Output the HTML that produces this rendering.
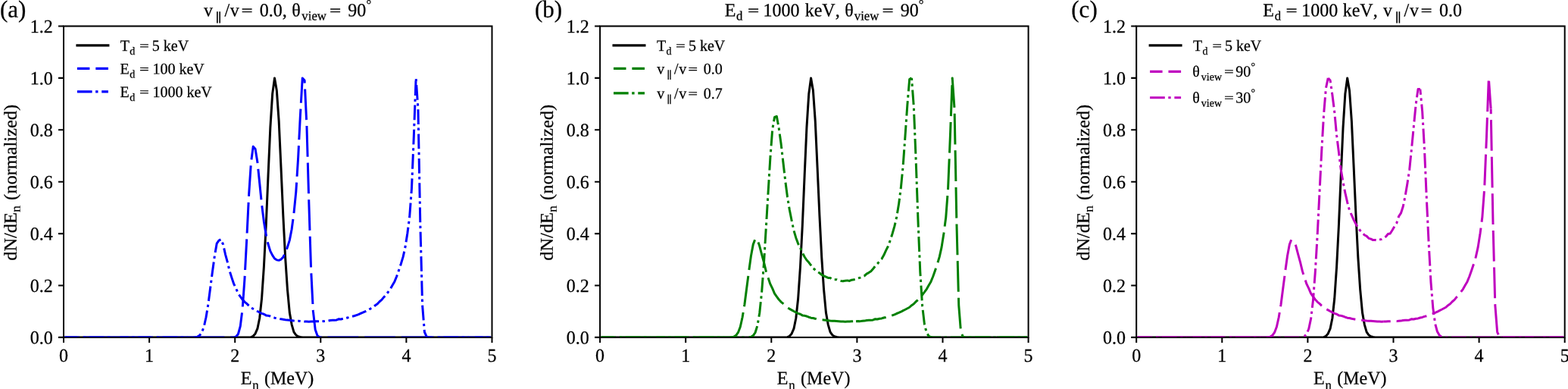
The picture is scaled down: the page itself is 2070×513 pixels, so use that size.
<!DOCTYPE html>
<html lang="en"><head><meta charset="utf-8"><title>Neutron energy spectra</title>
<style>html,body{margin:0;padding:0;background:#fff;overflow:hidden}svg{display:block}text{font-family:"Liberation Serif", "DejaVu Serif", serif;fill:#000;stroke:#000;stroke-width:0.25px;font-kerning:none;text-rendering:geometricPrecision;white-space:pre}</style></head><body>
<svg width="2070" height="513" viewBox="0 0 2070 513" role="img" aria-label="Normalized neutron energy spectra dN/dE versus neutron energy in three panels">
<rect width="2070" height="513" fill="#fff"/>
<defs>
<clipPath id="c0"><rect x="84.00" y="34.50" width="565.50" height="409.85"/></clipPath>
<clipPath id="c1"><rect x="792.10" y="34.50" width="565.50" height="409.85"/></clipPath>
<clipPath id="c2"><rect x="1500.20" y="34.50" width="565.50" height="409.85"/></clipPath>
</defs>
<g transform="scale(1,1.03012)">
<g>
<rect x="84.00" y="33.49" width="565.50" height="398.40" fill="none" stroke="#000" stroke-width="2.00"/>
<path d="M84.00,431.89 v7.00 M197.10,431.89 v7.00 M310.20,431.89 v7.00 M423.30,431.89 v7.00 M536.40,431.89 v7.00 M649.50,431.89 v7.00 M84.00,431.89 h-7.00 M84.00,365.49 h-7.00 M84.00,299.09 h-7.00 M84.00,232.69 h-7.00 M84.00,166.29 h-7.00 M84.00,99.89 h-7.00 M84.00,33.49 h-7.00" stroke="#000" stroke-width="2.00" fill="none"/>
<g transform="scale(1,0.970760)"><g clip-path="url(#c0)" fill="none" stroke-width="3.00" stroke-linejoin="round">
<path d="M85.41,445.10 L88.24,445.10 L91.07,445.10 L93.90,445.10 L96.72,445.10 L99.55,445.10 L102.38,445.10 L105.21,445.10 L108.03,445.10 L110.86,445.10 L113.69,445.10 L116.52,445.10 L119.34,445.10 L122.17,445.10 L125.00,445.10 L127.83,445.10 L130.65,445.10 L133.48,445.10 L136.31,445.10 L139.14,445.10 L141.96,445.10 L144.79,445.10 L147.62,445.10 L150.45,445.10 L153.27,445.10 L156.10,445.10 L158.93,445.10 L161.76,445.10 L164.58,445.10 L167.41,445.10 L170.24,445.10 L173.07,445.10 L175.89,445.10 L178.72,445.10 L181.55,445.10 L184.38,445.10 L187.20,445.10 L190.03,445.10 L192.86,445.10 L195.69,445.10 L198.51,445.10 L201.34,445.10 L204.17,445.10 L207.00,445.10 L209.82,445.10 L212.65,445.10 L215.48,445.10 L218.31,445.10 L221.13,445.10 L223.96,445.10 L226.79,445.10 L229.62,445.10 L232.44,445.10 L235.27,445.10 L238.10,445.10 L240.93,445.10 L243.75,445.10 L246.58,445.10 L249.41,445.10 L252.24,445.10 L255.06,445.10 L257.89,445.10 L260.72,445.10 L263.55,445.10 L266.37,445.10 L269.20,445.10 L272.03,445.10 L274.86,445.10 L277.68,445.10 L280.51,445.10 L283.34,445.10 L286.17,445.10 L288.99,445.10 L291.82,445.10 L294.65,445.10 L297.48,445.10 L300.30,445.10 L303.13,445.10 L305.96,445.10 L308.79,445.10 L311.61,445.10 L314.44,445.10 L317.27,445.10 L320.10,445.10 L322.92,445.09 L325.75,445.04 L328.58,444.97 L331.41,444.66 L334.23,443.25 L337.06,439.97 L339.89,433.43 L342.72,419.48 L345.54,393.73 L348.37,352.19 L351.20,297.51 L354.03,231.53 L356.85,168.07 L359.68,123.62 L362.51,102.89 L365.34,119.58 L368.16,159.60 L370.99,221.08 L373.82,284.35 L376.65,339.57 L379.47,381.86 L382.30,412.13 L385.13,428.08 L387.96,437.90 L390.78,441.87 L393.61,443.80 L396.44,444.56 L399.27,444.95 L402.09,445.08 L404.92,445.10 L407.75,445.10 L410.58,445.10 L413.40,445.10 L416.23,445.10 L419.06,445.10 L421.89,445.10 L424.71,445.10 L427.54,445.10 L430.37,445.10 L433.20,445.10 L436.02,445.10 L438.85,445.10 L441.68,445.10 L444.51,445.10 L447.33,445.10 L450.16,445.10 L452.99,445.10 L455.82,445.10 L458.64,445.10 L461.47,445.10 L464.30,445.10 L467.13,445.10 L469.95,445.10 L472.78,445.10 L475.61,445.10 L478.44,445.10 L481.26,445.10 L484.09,445.10 L486.92,445.10 L489.75,445.10 L492.57,445.10 L495.40,445.10 L498.23,445.10 L501.06,445.10 L503.88,445.10 L506.71,445.10 L509.54,445.10 L512.37,445.10 L515.19,445.10 L518.02,445.10 L520.85,445.10 L523.68,445.10 L526.50,445.10 L529.33,445.10 L532.16,445.10 L534.99,445.10 L537.81,445.10 L540.64,445.10 L543.47,445.10 L546.30,445.10 L549.12,445.10 L551.95,445.10 L554.78,445.10 L557.61,445.10 L560.43,445.10 L563.26,445.10 L566.09,445.10 L568.92,445.10 L571.74,445.10 L574.57,445.10 L577.40,445.10 L580.23,445.10 L583.05,445.10 L585.88,445.10 L588.71,445.10 L591.54,445.10 L594.36,445.10 L597.19,445.10 L600.02,445.10 L602.85,445.10 L605.67,445.10 L608.50,445.10 L611.33,445.10 L614.16,445.10 L616.98,445.10 L619.81,445.10 L622.64,445.10 L625.47,445.10 L628.29,445.10 L631.12,445.10 L633.95,445.10 L636.78,445.10 L639.60,445.10 L642.43,445.10 L645.26,445.10 L648.09,445.10" stroke="#000000"/>
<path d="M85.41,445.10 L88.24,445.10 L91.07,445.10 L93.90,445.10 L96.72,445.10 L99.55,445.10 L102.38,445.10 L105.21,445.10 L108.03,445.10 L110.86,445.10 L113.69,445.10 L116.52,445.10 L119.34,445.10 L122.17,445.10 L125.00,445.10 L127.83,445.10 L130.65,445.10 L133.48,445.10 L136.31,445.10 L139.14,445.10 L141.96,445.10 L144.79,445.10 L147.62,445.10 L150.45,445.10 L153.27,445.10 L156.10,445.10 L158.93,445.10 L161.76,445.10 L164.58,445.10 L167.41,445.10 L170.24,445.10 L173.07,445.10 L175.89,445.10 L178.72,445.10 L181.55,445.10 L184.38,445.10 L187.20,445.10 L190.03,445.10 L192.86,445.10 L195.69,445.10 L198.51,445.10 L201.34,445.10 L204.17,445.10 L207.00,445.10 L209.82,445.10 L212.65,445.10 L215.48,445.10 L218.31,445.10 L221.13,445.10 L223.96,445.10 L226.79,445.10 L229.62,445.10 L232.44,445.10 L235.27,445.10 L238.10,445.10 L240.93,445.10 L243.75,445.10 L246.58,445.10 L249.41,445.10 L252.24,445.10 L255.06,445.10 L257.89,445.10 L260.72,445.10 L263.55,445.10 L266.37,445.10 L269.20,445.10 L272.03,445.10 L274.86,445.10 L277.68,445.10 L280.51,445.10 L283.34,445.10 L286.17,445.10 L288.99,445.10 L291.82,445.10 L294.65,445.10 L297.48,445.10 L300.30,445.10 L303.13,445.10 L305.96,445.08 L308.79,444.91 L311.61,443.99 L314.44,440.51 L317.27,430.14 L320.10,407.56 L322.92,368.39 L325.75,314.75 L328.58,257.10 L331.41,214.43 L334.23,193.16 L337.06,196.39 L339.89,213.99 L342.72,241.50 L345.54,269.43 L348.37,292.18 L351.20,309.63 L354.03,322.06 L356.85,331.18 L359.68,336.67 L362.51,341.03 L365.34,342.86 L368.16,343.34 L370.99,342.05 L373.82,339.14 L376.65,333.22 L379.47,325.87 L382.30,316.89 L385.13,302.26 L387.96,281.24 L390.78,253.08 L393.61,208.33 L396.44,151.69 L399.27,102.89 L402.09,105.97 L404.92,165.41 L407.75,264.81 L410.58,354.69 L413.40,410.70 L416.23,434.83 L419.06,442.71 L421.89,444.66 L424.71,445.03 L427.54,445.09 L430.37,445.10 L433.20,445.10 L436.02,445.10 L438.85,445.10 L441.68,445.10 L444.51,445.10 L447.33,445.10 L450.16,445.10 L452.99,445.10 L455.82,445.10 L458.64,445.10 L461.47,445.10 L464.30,445.10 L467.13,445.10 L469.95,445.10 L472.78,445.10 L475.61,445.10 L478.44,445.10 L481.26,445.10 L484.09,445.10 L486.92,445.10 L489.75,445.10 L492.57,445.10 L495.40,445.10 L498.23,445.10 L501.06,445.10 L503.88,445.10 L506.71,445.10 L509.54,445.10 L512.37,445.10 L515.19,445.10 L518.02,445.10 L520.85,445.10 L523.68,445.10 L526.50,445.10 L529.33,445.10 L532.16,445.10 L534.99,445.10 L537.81,445.10 L540.64,445.10 L543.47,445.10 L546.30,445.10 L549.12,445.10 L551.95,445.10 L554.78,445.10 L557.61,445.10 L560.43,445.10 L563.26,445.10 L566.09,445.10 L568.92,445.10 L571.74,445.10 L574.57,445.10 L577.40,445.10 L580.23,445.10 L583.05,445.10 L585.88,445.10 L588.71,445.10 L591.54,445.10 L594.36,445.10 L597.19,445.10 L600.02,445.10 L602.85,445.10 L605.67,445.10 L608.50,445.10 L611.33,445.10 L614.16,445.10 L616.98,445.10 L619.81,445.10 L622.64,445.10 L625.47,445.10 L628.29,445.10 L631.12,445.10 L633.95,445.10 L636.78,445.10 L639.60,445.10 L642.43,445.10 L645.26,445.10 L648.09,445.10" stroke="#0000ff" stroke-dasharray="40.7 7.9" stroke-dashoffset="24.20"/>
<path d="M85.41,445.10 L88.24,445.10 L91.07,445.10 L93.90,445.10 L96.72,445.10 L99.55,445.10 L102.38,445.10 L105.21,445.10 L108.03,445.10 L110.86,445.10 L113.69,445.10 L116.52,445.10 L119.34,445.10 L122.17,445.10 L125.00,445.10 L127.83,445.10 L130.65,445.10 L133.48,445.10 L136.31,445.10 L139.14,445.10 L141.96,445.10 L144.79,445.10 L147.62,445.10 L150.45,445.10 L153.27,445.10 L156.10,445.10 L158.93,445.10 L161.76,445.10 L164.58,445.10 L167.41,445.10 L170.24,445.10 L173.07,445.10 L175.89,445.10 L178.72,445.10 L181.55,445.10 L184.38,445.10 L187.20,445.10 L190.03,445.10 L192.86,445.10 L195.69,445.10 L198.51,445.10 L201.34,445.10 L204.17,445.10 L207.00,445.10 L209.82,445.10 L212.65,445.10 L215.48,445.10 L218.31,445.10 L221.13,445.10 L223.96,445.10 L226.79,445.10 L229.62,445.10 L232.44,445.10 L235.27,445.10 L238.10,445.10 L240.93,445.10 L243.75,445.10 L246.58,445.10 L249.41,445.09 L252.24,445.08 L255.06,445.01 L257.89,444.81 L260.72,444.12 L263.55,442.34 L266.37,438.43 L269.20,431.04 L272.03,418.24 L274.86,401.23 L277.68,379.52 L280.51,357.86 L283.34,337.48 L286.17,321.22 L288.99,317.11 L291.82,315.75 L294.65,322.59 L297.48,335.28 L300.30,345.59 L303.13,357.40 L305.96,366.33 L308.79,374.65 L311.61,380.44 L314.44,387.11 L317.27,391.22 L320.10,395.02 L322.92,398.11 L325.75,400.39 L328.58,403.16 L331.41,405.44 L334.23,407.38 L337.06,408.85 L339.89,410.52 L342.72,411.98 L345.54,413.36 L348.37,414.24 L351.20,415.91 L354.03,416.33 L356.85,417.05 L359.68,418.23 L362.51,419.16 L365.34,419.53 L368.16,420.23 L370.99,420.85 L373.82,421.32 L376.65,421.82 L379.47,421.93 L382.30,422.29 L385.13,422.68 L387.96,423.05 L390.78,423.31 L393.61,423.24 L396.44,423.41 L399.27,423.77 L402.09,424.11 L404.92,423.99 L407.75,424.16 L410.58,424.07 L413.40,424.05 L416.23,423.86 L419.06,423.78 L421.89,423.68 L424.71,423.52 L427.54,423.63 L430.37,423.32 L433.20,423.11 L436.02,422.46 L438.85,422.20 L441.68,422.36 L444.51,421.92 L447.33,420.76 L450.16,420.97 L452.99,420.21 L455.82,419.92 L458.64,419.01 L461.47,418.41 L464.30,417.40 L467.13,416.78 L469.95,415.80 L472.78,414.83 L475.61,413.52 L478.44,412.43 L481.26,411.23 L484.09,409.65 L486.92,408.22 L489.75,406.70 L492.57,405.24 L495.40,402.63 L498.23,400.74 L501.06,397.73 L503.88,395.40 L506.71,391.91 L509.54,388.86 L512.37,385.14 L515.19,381.26 L518.02,376.21 L520.85,371.42 L523.68,364.54 L526.50,356.52 L529.33,348.03 L532.16,338.69 L534.99,325.86 L537.81,308.04 L540.64,286.52 L543.47,248.74 L546.30,180.09 L549.12,102.89 L551.95,143.44 L554.78,293.19 L557.61,402.33 L560.43,437.81 L563.26,444.22 L566.09,445.05 L568.92,445.09 L571.74,445.10 L574.57,445.10 L577.40,445.10 L580.23,445.10 L583.05,445.10 L585.88,445.10 L588.71,445.10 L591.54,445.10 L594.36,445.10 L597.19,445.10 L600.02,445.10 L602.85,445.10 L605.67,445.10 L608.50,445.10 L611.33,445.10 L614.16,445.10 L616.98,445.10 L619.81,445.10 L622.64,445.10 L625.47,445.10 L628.29,445.10 L631.12,445.10 L633.95,445.10 L636.78,445.10 L639.60,445.10 L642.43,445.10 L645.26,445.10 L648.09,445.10" stroke="#0000ff" stroke-dasharray="19.7 4.5 3.4 4.7" stroke-dashoffset="0.00"/>
</g></g>
<g fill="none" stroke-width="3.00">
<path d="M101.90,58.15 H142.90" stroke="#000" stroke-linecap="square"/>
<path d="M101.90,87.76 H142.90" stroke="#0000ff" stroke-dasharray="40.7 7.9" stroke-dashoffset="24.2"/>
<path d="M101.90,117.36 H142.90" stroke="#0000ff" stroke-dasharray="19.7 4.5 3.4 4.7"/>
</g>
<g font-size="20"><text transform="translate(158.82,64.94) rotate(0.05)">T</text><text font-size="14" transform="translate(171.30,69.80) rotate(0.05)">d</text><text font-size="14.67" style="font-family:'DejaVu Serif',sans-serif;stroke-width:0.05px" transform="translate(183.22,63.10) rotate(0.05) scale(1.17,1)">=</text><text transform="translate(200.78,64.94) rotate(0.05)">5 keV</text></g>
<g font-size="20"><text transform="translate(158.58,94.75) rotate(0.05)">E</text><text font-size="14" transform="translate(171.30,99.60) rotate(0.05)">d</text><text font-size="14.67" style="font-family:'DejaVu Serif',sans-serif;stroke-width:0.05px" transform="translate(183.22,92.90) rotate(0.05) scale(1.17,1)">=</text><text transform="translate(201.45,94.75) rotate(0.05)">100 keV</text></g>
<g font-size="20"><text transform="translate(158.58,124.16) rotate(0.05)">E</text><text font-size="14" transform="translate(171.30,129.01) rotate(0.05)">d</text><text font-size="14.67" style="font-family:'DejaVu Serif',sans-serif;stroke-width:0.05px" transform="translate(183.22,122.32) rotate(0.05) scale(1.17,1)">=</text><text transform="translate(201.45,124.16) rotate(0.05)">1000 keV</text></g>
<text transform="translate(84.00,462.96) rotate(0.05)" font-size="24" text-anchor="middle">0</text>
<text transform="translate(197.10,462.96) rotate(0.05)" font-size="24" text-anchor="middle">1</text>
<text transform="translate(310.20,462.96) rotate(0.05)" font-size="24" text-anchor="middle">2</text>
<text transform="translate(423.30,462.96) rotate(0.05)" font-size="24" text-anchor="middle">3</text>
<text transform="translate(536.40,462.96) rotate(0.05)" font-size="24" text-anchor="middle">4</text>
<text transform="translate(649.50,462.96) rotate(0.05)" font-size="24" text-anchor="middle">5</text>
<text transform="translate(69.70,440.14) rotate(0.05)" font-size="24" text-anchor="end">0.0</text>
<text transform="translate(69.70,373.74) rotate(0.05)" font-size="24" text-anchor="end">0.2</text>
<text transform="translate(69.70,307.34) rotate(0.05)" font-size="24" text-anchor="end">0.4</text>
<text transform="translate(69.70,240.94) rotate(0.05)" font-size="24" text-anchor="end">0.6</text>
<text transform="translate(69.70,174.54) rotate(0.05)" font-size="24" text-anchor="end">0.8</text>
<text transform="translate(69.70,108.14) rotate(0.05)" font-size="24" text-anchor="end">1.0</text>
<text transform="translate(69.70,41.74) rotate(0.05)" font-size="24" text-anchor="end">1.2</text>
<g font-size="24"><text transform="translate(268.90,20.97) rotate(0.05)">v</text><text font-size="15" style="font-family:'DejaVu Sans',sans-serif;stroke-width:0" transform="translate(283.25,26.36) rotate(0.05) scale(1.4,1)">∥</text><text transform="translate(296.40,20.97) rotate(0.05)">/</text><text transform="translate(303.70,20.97) rotate(0.05)">v</text><text font-size="17.6" style="font-family:'DejaVu Serif',sans-serif;stroke-width:0.05px" transform="translate(317.40,18.93) rotate(0.05) scale(1.17,1)">=</text><text transform="translate(342.72,20.97) rotate(0.05)">0.0,</text><text transform="translate(385.15,20.97) rotate(0.05)">θ</text><text font-size="16.8" transform="translate(398.37,25.82) rotate(0.05)">view</text><text font-size="17.6" style="font-family:'DejaVu Serif',sans-serif;stroke-width:0.05px" transform="translate(434.07,18.93) rotate(0.05) scale(1.17,1)">=</text><text transform="translate(459.32,20.97) rotate(0.05)">90</text><text font-size="16.8" transform="translate(483.42,11.26) rotate(0.05)">°</text></g>
<g font-size="24"><text transform="translate(317.75,491.98) rotate(0.05)">E</text><text font-size="16.8" transform="translate(333.22,498.39) rotate(0.05)">n</text><text transform="translate(349.00,491.98) rotate(0.05)">(MeV)</text></g>
<g transform="translate(21.70,332.83) rotate(-90) scale(0.9873,1)"><g font-size="24"><text transform="translate(-0.88,0.00) rotate(0.05)">dN/dE</text><text font-size="16.8" transform="translate(62.12,4.85) rotate(0.05)">n</text><text transform="translate(77.60,0.00) rotate(0.05)">(normalized)</text></g></g>
<text transform="translate(0.00,22.18) rotate(0.05)" font-size="31">(a)</text>
</g>
<g>
<rect x="792.10" y="33.49" width="565.50" height="398.40" fill="none" stroke="#000" stroke-width="2.00"/>
<path d="M792.10,431.89 v7.00 M905.20,431.89 v7.00 M1018.30,431.89 v7.00 M1131.40,431.89 v7.00 M1244.50,431.89 v7.00 M1357.60,431.89 v7.00 M792.10,431.89 h-7.00 M792.10,365.49 h-7.00 M792.10,299.09 h-7.00 M792.10,232.69 h-7.00 M792.10,166.29 h-7.00 M792.10,99.89 h-7.00 M792.10,33.49 h-7.00" stroke="#000" stroke-width="2.00" fill="none"/>
<g transform="scale(1,0.970760)"><g clip-path="url(#c1)" fill="none" stroke-width="3.00" stroke-linejoin="round">
<path d="M793.51,445.10 L796.34,445.10 L799.17,445.10 L802.00,445.10 L804.82,445.10 L807.65,445.10 L810.48,445.10 L813.31,445.10 L816.13,445.10 L818.96,445.10 L821.79,445.10 L824.62,445.10 L827.44,445.10 L830.27,445.10 L833.10,445.10 L835.93,445.10 L838.75,445.10 L841.58,445.10 L844.41,445.10 L847.24,445.10 L850.06,445.10 L852.89,445.10 L855.72,445.10 L858.55,445.10 L861.37,445.10 L864.20,445.10 L867.03,445.10 L869.86,445.10 L872.68,445.10 L875.51,445.10 L878.34,445.10 L881.17,445.10 L883.99,445.10 L886.82,445.10 L889.65,445.10 L892.48,445.10 L895.30,445.10 L898.13,445.10 L900.96,445.10 L903.79,445.10 L906.61,445.10 L909.44,445.10 L912.27,445.10 L915.10,445.10 L917.92,445.10 L920.75,445.10 L923.58,445.10 L926.41,445.10 L929.23,445.10 L932.06,445.10 L934.89,445.10 L937.72,445.10 L940.54,445.10 L943.37,445.10 L946.20,445.10 L949.03,445.10 L951.85,445.10 L954.68,445.10 L957.51,445.10 L960.34,445.10 L963.16,445.10 L965.99,445.10 L968.82,445.10 L971.65,445.10 L974.47,445.10 L977.30,445.10 L980.13,445.10 L982.96,445.10 L985.78,445.10 L988.61,445.10 L991.44,445.10 L994.27,445.10 L997.09,445.10 L999.92,445.10 L1002.75,445.10 L1005.58,445.10 L1008.40,445.10 L1011.23,445.10 L1014.06,445.10 L1016.89,445.10 L1019.71,445.10 L1022.54,445.10 L1025.37,445.10 L1028.20,445.10 L1031.02,445.09 L1033.85,445.04 L1036.68,444.97 L1039.51,444.66 L1042.33,443.25 L1045.16,439.97 L1047.99,433.43 L1050.82,419.48 L1053.64,393.73 L1056.47,352.19 L1059.30,297.51 L1062.13,231.53 L1064.95,168.07 L1067.78,123.62 L1070.61,102.89 L1073.44,119.58 L1076.26,159.60 L1079.09,221.08 L1081.92,284.35 L1084.75,339.57 L1087.57,381.86 L1090.40,412.13 L1093.23,428.08 L1096.06,437.90 L1098.88,441.87 L1101.71,443.80 L1104.54,444.56 L1107.37,444.95 L1110.19,445.08 L1113.02,445.10 L1115.85,445.10 L1118.68,445.10 L1121.50,445.10 L1124.33,445.10 L1127.16,445.10 L1129.99,445.10 L1132.81,445.10 L1135.64,445.10 L1138.47,445.10 L1141.30,445.10 L1144.12,445.10 L1146.95,445.10 L1149.78,445.10 L1152.61,445.10 L1155.43,445.10 L1158.26,445.10 L1161.09,445.10 L1163.92,445.10 L1166.74,445.10 L1169.57,445.10 L1172.40,445.10 L1175.23,445.10 L1178.05,445.10 L1180.88,445.10 L1183.71,445.10 L1186.54,445.10 L1189.36,445.10 L1192.19,445.10 L1195.02,445.10 L1197.85,445.10 L1200.67,445.10 L1203.50,445.10 L1206.33,445.10 L1209.16,445.10 L1211.98,445.10 L1214.81,445.10 L1217.64,445.10 L1220.47,445.10 L1223.29,445.10 L1226.12,445.10 L1228.95,445.10 L1231.78,445.10 L1234.60,445.10 L1237.43,445.10 L1240.26,445.10 L1243.09,445.10 L1245.91,445.10 L1248.74,445.10 L1251.57,445.10 L1254.40,445.10 L1257.22,445.10 L1260.05,445.10 L1262.88,445.10 L1265.71,445.10 L1268.53,445.10 L1271.36,445.10 L1274.19,445.10 L1277.02,445.10 L1279.84,445.10 L1282.67,445.10 L1285.50,445.10 L1288.33,445.10 L1291.15,445.10 L1293.98,445.10 L1296.81,445.10 L1299.64,445.10 L1302.46,445.10 L1305.29,445.10 L1308.12,445.10 L1310.95,445.10 L1313.77,445.10 L1316.60,445.10 L1319.43,445.10 L1322.26,445.10 L1325.08,445.10 L1327.91,445.10 L1330.74,445.10 L1333.57,445.10 L1336.39,445.10 L1339.22,445.10 L1342.05,445.10 L1344.88,445.10 L1347.70,445.10 L1350.53,445.10 L1353.36,445.10 L1356.19,445.10" stroke="#000000"/>
<path d="M793.51,445.10 L796.34,445.10 L799.17,445.10 L802.00,445.10 L804.82,445.10 L807.65,445.10 L810.48,445.10 L813.31,445.10 L816.13,445.10 L818.96,445.10 L821.79,445.10 L824.62,445.10 L827.44,445.10 L830.27,445.10 L833.10,445.10 L835.93,445.10 L838.75,445.10 L841.58,445.10 L844.41,445.10 L847.24,445.10 L850.06,445.10 L852.89,445.10 L855.72,445.10 L858.55,445.10 L861.37,445.10 L864.20,445.10 L867.03,445.10 L869.86,445.10 L872.68,445.10 L875.51,445.10 L878.34,445.10 L881.17,445.10 L883.99,445.10 L886.82,445.10 L889.65,445.10 L892.48,445.10 L895.30,445.10 L898.13,445.10 L900.96,445.10 L903.79,445.10 L906.61,445.10 L909.44,445.10 L912.27,445.10 L915.10,445.10 L917.92,445.10 L920.75,445.10 L923.58,445.10 L926.41,445.10 L929.23,445.10 L932.06,445.10 L934.89,445.10 L937.72,445.10 L940.54,445.10 L943.37,445.10 L946.20,445.10 L949.03,445.10 L951.85,445.10 L954.68,445.10 L957.51,445.09 L960.34,445.08 L963.16,445.01 L965.99,444.81 L968.82,444.12 L971.65,442.34 L974.47,438.43 L977.30,431.04 L980.13,418.24 L982.96,401.23 L985.78,379.52 L988.61,357.86 L991.44,337.48 L994.27,322.36 L997.09,314.90 L999.92,316.34 L1002.75,324.56 L1005.58,335.28 L1008.40,345.59 L1011.23,357.40 L1014.06,366.33 L1016.89,374.65 L1019.71,380.44 L1022.54,387.11 L1025.37,391.22 L1028.20,395.02 L1031.02,398.11 L1033.85,400.39 L1036.68,403.16 L1039.51,405.44 L1042.33,407.38 L1045.16,408.85 L1047.99,410.52 L1050.82,411.98 L1053.64,413.36 L1056.47,414.24 L1059.30,415.91 L1062.13,416.33 L1064.95,417.05 L1067.78,418.23 L1070.61,419.16 L1073.44,419.53 L1076.26,420.23 L1079.09,420.85 L1081.92,421.32 L1084.75,421.82 L1087.57,421.93 L1090.40,422.29 L1093.23,422.68 L1096.06,423.05 L1098.88,423.31 L1101.71,423.24 L1104.54,423.41 L1107.37,423.77 L1110.19,424.11 L1113.02,423.99 L1115.85,424.16 L1118.68,424.07 L1121.50,424.05 L1124.33,423.86 L1127.16,423.78 L1129.99,423.68" stroke="#008000" stroke-dasharray="40.7 7.9" stroke-dashoffset="24.20"/>
<path d="M1129.99,423.68 L1132.81,423.52 L1135.64,423.63 L1138.47,423.32 L1141.30,423.11 L1144.12,422.46 L1146.95,422.20 L1149.78,422.36 L1152.61,421.92 L1155.43,420.76 L1158.26,420.97 L1161.09,420.21 L1163.92,419.92 L1166.74,419.01 L1169.57,418.41 L1172.40,417.40 L1175.23,416.78 L1178.05,415.80 L1180.88,414.83 L1183.71,413.52 L1186.54,412.43 L1189.36,411.23 L1192.19,409.65 L1195.02,408.22 L1197.85,406.70 L1200.67,405.24 L1203.50,402.63 L1206.33,400.74 L1209.16,397.73 L1211.98,395.40 L1214.81,391.91 L1217.64,388.86 L1220.47,385.14 L1223.29,381.26 L1226.12,376.21 L1228.95,371.42 L1231.78,364.54 L1234.60,356.52 L1237.43,348.03 L1240.26,338.69 L1243.09,325.86 L1245.91,308.04 L1248.74,286.52 L1251.57,248.74 L1254.40,180.09 L1257.22,102.89 L1260.05,143.44 L1262.88,293.19 L1265.71,402.33 L1268.53,437.81 L1271.36,444.22 L1274.19,445.05 L1277.02,445.09 L1279.84,445.10 L1282.67,445.10 L1285.50,445.10 L1288.33,445.10 L1291.15,445.10 L1293.98,445.10 L1296.81,445.10 L1299.64,445.10 L1302.46,445.10 L1305.29,445.10 L1308.12,445.10 L1310.95,445.10 L1313.77,445.10 L1316.60,445.10 L1319.43,445.10 L1322.26,445.10 L1325.08,445.10 L1327.91,445.10 L1330.74,445.10 L1333.57,445.10 L1336.39,445.10 L1339.22,445.10 L1342.05,445.10 L1344.88,445.10 L1347.70,445.10 L1350.53,445.10 L1353.36,445.10 L1356.19,445.10" stroke="#008000" stroke-dasharray="40.7 7.9" stroke-dashoffset="0.35"/>
<path d="M793.51,445.10 L796.34,445.10 L799.17,445.10 L802.00,445.10 L804.82,445.10 L807.65,445.10 L810.48,445.10 L813.31,445.10 L816.13,445.10 L818.96,445.10 L821.79,445.10 L824.62,445.10 L827.44,445.10 L830.27,445.10 L833.10,445.10 L835.93,445.10 L838.75,445.10 L841.58,445.10 L844.41,445.10 L847.24,445.10 L850.06,445.10 L852.89,445.10 L855.72,445.10 L858.55,445.10 L861.37,445.10 L864.20,445.10 L867.03,445.10 L869.86,445.10 L872.68,445.10 L875.51,445.10 L878.34,445.10 L881.17,445.10 L883.99,445.10 L886.82,445.10 L889.65,445.10 L892.48,445.10 L895.30,445.10 L898.13,445.10 L900.96,445.10 L903.79,445.10 L906.61,445.10 L909.44,445.10 L912.27,445.10 L915.10,445.10 L917.92,445.10 L920.75,445.10 L923.58,445.10 L926.41,445.10 L929.23,445.10 L932.06,445.10 L934.89,445.10 L937.72,445.10 L940.54,445.10 L943.37,445.10 L946.20,445.10 L949.03,445.10 L951.85,445.10 L954.68,445.10 L957.51,445.10 L960.34,445.10 L963.16,445.10 L965.99,445.10 L968.82,445.10 L971.65,445.10 L974.47,445.10 L977.30,445.10 L980.13,445.10 L982.96,445.07 L985.78,445.03" stroke="#008000" stroke-dasharray="19.7 4.5 3.4 4.7" stroke-dashoffset="0.00"/>
<path d="M985.78,445.03 L988.61,444.88 L991.44,444.25 L994.27,442.65 L997.09,438.48 L999.92,429.27 L1002.75,412.75 L1005.58,385.84 L1008.40,348.11 L1011.23,301.69 L1014.06,254.37 L1016.89,208.04 L1019.71,170.60 L1022.54,154.40 L1025.37,153.51 L1028.20,168.87 L1031.02,188.99 L1033.85,213.48 L1036.68,238.06 L1039.51,259.76 L1042.33,276.77 L1045.16,291.06 L1047.99,304.07 L1050.82,313.70 L1053.64,321.32 L1056.47,326.84 L1059.30,333.23 L1062.13,338.78 L1064.95,342.97 L1067.78,346.03 L1070.61,349.85 L1073.44,353.81 L1076.26,355.97 L1079.09,358.36 L1081.92,359.99 L1084.75,362.40 L1087.57,363.92 L1090.40,365.18 L1093.23,366.41 L1096.06,366.55 L1098.88,368.36 L1101.71,368.77 L1104.54,368.74 L1107.37,369.80 L1110.19,370.43 L1113.02,370.77 L1115.85,370.15 L1118.68,369.88 L1121.50,370.46 L1124.33,369.21 L1127.16,368.79 L1129.99,367.98 L1132.81,366.91 L1135.64,366.07 L1138.47,364.52 L1141.30,363.70 L1144.12,361.06 L1146.95,359.58 L1149.78,357.74 L1152.61,354.60 L1155.43,350.85 L1158.26,347.94 L1161.09,344.45 L1163.92,341.47 L1166.74,336.58 L1169.57,330.31 L1172.40,324.77 L1175.23,316.93 L1178.05,308.27 L1180.88,298.43 L1183.71,286.10 L1186.54,269.33 L1189.36,247.53 L1192.19,218.39 L1195.02,179.01 L1197.85,138.32 L1200.67,104.64 L1203.50,102.89" stroke="#008000" stroke-dasharray="19.7 4.5 3.4 4.7" stroke-dashoffset="29.27"/>
<path d="M1203.50,102.89 L1206.33,140.89 L1209.16,211.07 L1211.98,291.03 L1214.81,358.89 L1217.64,403.70 L1220.47,427.93 L1223.29,438.69 L1226.12,443.28 L1228.95,444.57 L1231.78,444.95 L1234.60,445.08 L1237.43,445.10 L1240.26,445.10 L1243.09,445.10 L1245.91,445.10 L1248.74,445.10 L1251.57,445.10 L1254.40,445.10 L1257.22,445.10 L1260.05,445.10 L1262.88,445.10 L1265.71,445.10 L1268.53,445.10 L1271.36,445.10 L1274.19,445.10 L1277.02,445.10 L1279.84,445.10 L1282.67,445.10 L1285.50,445.10 L1288.33,445.10 L1291.15,445.10 L1293.98,445.10 L1296.81,445.10 L1299.64,445.10 L1302.46,445.10 L1305.29,445.10 L1308.12,445.10 L1310.95,445.10 L1313.77,445.10 L1316.60,445.10 L1319.43,445.10 L1322.26,445.10 L1325.08,445.10 L1327.91,445.10 L1330.74,445.10 L1333.57,445.10 L1336.39,445.10 L1339.22,445.10 L1342.05,445.10 L1344.88,445.10 L1347.70,445.10 L1350.53,445.10 L1353.36,445.10 L1356.19,445.10" stroke="#008000" stroke-dasharray="19.7 4.5 3.4 4.7" stroke-dashoffset="16.59"/>
</g></g>
<g fill="none" stroke-width="3.00">
<path d="M810.00,58.15 H851.00" stroke="#000" stroke-linecap="square"/>
<path d="M810.00,87.76 H851.00" stroke="#008000" stroke-dasharray="40.7 7.9" stroke-dashoffset="24.2"/>
<path d="M810.00,119.31 H851.00" stroke="#008000" stroke-dasharray="19.7 4.5 3.4 4.7"/>
</g>
<g font-size="20"><text transform="translate(866.92,64.94) rotate(0.05)">T</text><text font-size="14" transform="translate(879.40,69.80) rotate(0.05)">d</text><text font-size="14.67" style="font-family:'DejaVu Serif',sans-serif;stroke-width:0.05px" transform="translate(891.32,63.10) rotate(0.05) scale(1.17,1)">=</text><text transform="translate(908.88,64.94) rotate(0.05)">5 keV</text></g>
<g font-size="20"><text transform="translate(867.20,94.71) rotate(0.05)">v</text><text font-size="12.5" style="font-family:'DejaVu Sans',sans-serif;stroke-width:0" transform="translate(879.16,99.20) rotate(0.05) scale(1.4,1)">∥</text><text transform="translate(890.12,94.71) rotate(0.05)">/</text><text transform="translate(896.20,94.71) rotate(0.05)">v</text><text font-size="14.67" style="font-family:'DejaVu Serif',sans-serif;stroke-width:0.05px" transform="translate(907.62,92.86) rotate(0.05) scale(1.17,1)">=</text><text transform="translate(928.70,94.71) rotate(0.05)">0.0</text></g>
<g font-size="20"><text transform="translate(867.20,126.15) rotate(0.05)">v</text><text font-size="12.5" style="font-family:'DejaVu Sans',sans-serif;stroke-width:0" transform="translate(879.16,130.64) rotate(0.05) scale(1.4,1)">∥</text><text transform="translate(890.12,126.15) rotate(0.05)">/</text><text transform="translate(896.20,126.15) rotate(0.05)">v</text><text font-size="14.67" style="font-family:'DejaVu Serif',sans-serif;stroke-width:0.05px" transform="translate(907.62,124.31) rotate(0.05) scale(1.17,1)">=</text><text transform="translate(928.70,126.15) rotate(0.05)">0.7</text></g>
<text transform="translate(792.10,462.96) rotate(0.05)" font-size="24" text-anchor="middle">0</text>
<text transform="translate(905.20,462.96) rotate(0.05)" font-size="24" text-anchor="middle">1</text>
<text transform="translate(1018.30,462.96) rotate(0.05)" font-size="24" text-anchor="middle">2</text>
<text transform="translate(1131.40,462.96) rotate(0.05)" font-size="24" text-anchor="middle">3</text>
<text transform="translate(1244.50,462.96) rotate(0.05)" font-size="24" text-anchor="middle">4</text>
<text transform="translate(1357.60,462.96) rotate(0.05)" font-size="24" text-anchor="middle">5</text>
<text transform="translate(777.80,440.14) rotate(0.05)" font-size="24" text-anchor="end">0.0</text>
<text transform="translate(777.80,373.74) rotate(0.05)" font-size="24" text-anchor="end">0.2</text>
<text transform="translate(777.80,307.34) rotate(0.05)" font-size="24" text-anchor="end">0.4</text>
<text transform="translate(777.80,240.94) rotate(0.05)" font-size="24" text-anchor="end">0.6</text>
<text transform="translate(777.80,174.54) rotate(0.05)" font-size="24" text-anchor="end">0.8</text>
<text transform="translate(777.80,108.14) rotate(0.05)" font-size="24" text-anchor="end">1.0</text>
<text transform="translate(777.80,41.74) rotate(0.05)" font-size="24" text-anchor="end">1.2</text>
<g font-size="24"><text transform="translate(956.65,20.97) rotate(0.05)">E</text><text font-size="16.8" transform="translate(971.98,25.82) rotate(0.05)">d</text><text font-size="17.6" style="font-family:'DejaVu Serif',sans-serif;stroke-width:0.05px" transform="translate(985.90,18.93) rotate(0.05) scale(1.17,1)">=</text><text transform="translate(1007.48,20.97) rotate(0.05)">1000</text><text transform="translate(1062.70,20.97) rotate(0.05)">keV,</text><text transform="translate(1115.18,20.97) rotate(0.05)">θ</text><text font-size="16.8" transform="translate(1127.80,25.82) rotate(0.05)">view</text><text font-size="17.6" style="font-family:'DejaVu Serif',sans-serif;stroke-width:0.05px" transform="translate(1163.50,18.93) rotate(0.05) scale(1.17,1)">=</text><text transform="translate(1188.75,20.97) rotate(0.05)">90</text><text font-size="16.8" transform="translate(1212.85,11.26) rotate(0.05)">°</text></g>
<g font-size="24"><text transform="translate(1025.85,491.98) rotate(0.05)">E</text><text font-size="16.8" transform="translate(1041.32,498.39) rotate(0.05)">n</text><text transform="translate(1057.10,491.98) rotate(0.05)">(MeV)</text></g>
<g transform="translate(729.80,332.83) rotate(-90) scale(0.9873,1)"><g font-size="24"><text transform="translate(-0.88,0.00) rotate(0.05)">dN/dE</text><text font-size="16.8" transform="translate(62.12,4.85) rotate(0.05)">n</text><text transform="translate(77.60,0.00) rotate(0.05)">(normalized)</text></g></g>
<text transform="translate(705.90,22.18) rotate(0.05)" font-size="31">(b)</text>
</g>
<g>
<rect x="1500.20" y="33.49" width="565.50" height="398.40" fill="none" stroke="#000" stroke-width="2.00"/>
<path d="M1500.20,431.89 v7.00 M1613.30,431.89 v7.00 M1726.40,431.89 v7.00 M1839.50,431.89 v7.00 M1952.60,431.89 v7.00 M2065.70,431.89 v7.00 M1500.20,431.89 h-7.00 M1500.20,365.49 h-7.00 M1500.20,299.09 h-7.00 M1500.20,232.69 h-7.00 M1500.20,166.29 h-7.00 M1500.20,99.89 h-7.00 M1500.20,33.49 h-7.00" stroke="#000" stroke-width="2.00" fill="none"/>
<g transform="scale(1,0.970760)"><g clip-path="url(#c2)" fill="none" stroke-width="3.00" stroke-linejoin="round">
<path d="M1501.61,445.10 L1504.44,445.10 L1507.27,445.10 L1510.10,445.10 L1512.92,445.10 L1515.75,445.10 L1518.58,445.10 L1521.41,445.10 L1524.23,445.10 L1527.06,445.10 L1529.89,445.10 L1532.72,445.10 L1535.54,445.10 L1538.37,445.10 L1541.20,445.10 L1544.03,445.10 L1546.85,445.10 L1549.68,445.10 L1552.51,445.10 L1555.34,445.10 L1558.16,445.10 L1560.99,445.10 L1563.82,445.10 L1566.65,445.10 L1569.47,445.10 L1572.30,445.10 L1575.13,445.10 L1577.96,445.10 L1580.78,445.10 L1583.61,445.10 L1586.44,445.10 L1589.27,445.10 L1592.09,445.10 L1594.92,445.10 L1597.75,445.10 L1600.58,445.10 L1603.40,445.10 L1606.23,445.10 L1609.06,445.10 L1611.89,445.10 L1614.71,445.10 L1617.54,445.10 L1620.37,445.10 L1623.20,445.10 L1626.02,445.10 L1628.85,445.10 L1631.68,445.10 L1634.51,445.10 L1637.33,445.10 L1640.16,445.10 L1642.99,445.10 L1645.82,445.10 L1648.64,445.10 L1651.47,445.10 L1654.30,445.10 L1657.13,445.10 L1659.95,445.10 L1662.78,445.10 L1665.61,445.10 L1668.44,445.10 L1671.26,445.10 L1674.09,445.10 L1676.92,445.10 L1679.75,445.10 L1682.57,445.10 L1685.40,445.10 L1688.23,445.10 L1691.06,445.10 L1693.88,445.10 L1696.71,445.10 L1699.54,445.10 L1702.37,445.10 L1705.19,445.10 L1708.02,445.10 L1710.85,445.10 L1713.68,445.10 L1716.50,445.10 L1719.33,445.10 L1722.16,445.10 L1724.99,445.10 L1727.81,445.10 L1730.64,445.10 L1733.47,445.10 L1736.30,445.10 L1739.12,445.09 L1741.95,445.04 L1744.78,444.97 L1747.61,444.66 L1750.43,443.25 L1753.26,439.97 L1756.09,433.43 L1758.92,419.48 L1761.74,393.73 L1764.57,352.19 L1767.40,297.51 L1770.23,231.53 L1773.05,168.07 L1775.88,123.62 L1778.71,102.89 L1781.54,119.58 L1784.36,159.60 L1787.19,221.08 L1790.02,284.35 L1792.85,339.57 L1795.67,381.86 L1798.50,412.13 L1801.33,428.08 L1804.16,437.90 L1806.98,441.87 L1809.81,443.80 L1812.64,444.56 L1815.47,444.95 L1818.29,445.08 L1821.12,445.10 L1823.95,445.10 L1826.78,445.10 L1829.60,445.10 L1832.43,445.10 L1835.26,445.10 L1838.09,445.10 L1840.91,445.10 L1843.74,445.10 L1846.57,445.10 L1849.40,445.10 L1852.22,445.10 L1855.05,445.10 L1857.88,445.10 L1860.71,445.10 L1863.53,445.10 L1866.36,445.10 L1869.19,445.10 L1872.02,445.10 L1874.84,445.10 L1877.67,445.10 L1880.50,445.10 L1883.33,445.10 L1886.15,445.10 L1888.98,445.10 L1891.81,445.10 L1894.64,445.10 L1897.46,445.10 L1900.29,445.10 L1903.12,445.10 L1905.95,445.10 L1908.77,445.10 L1911.60,445.10 L1914.43,445.10 L1917.26,445.10 L1920.08,445.10 L1922.91,445.10 L1925.74,445.10 L1928.57,445.10 L1931.39,445.10 L1934.22,445.10 L1937.05,445.10 L1939.88,445.10 L1942.70,445.10 L1945.53,445.10 L1948.36,445.10 L1951.19,445.10 L1954.01,445.10 L1956.84,445.10 L1959.67,445.10 L1962.50,445.10 L1965.32,445.10 L1968.15,445.10 L1970.98,445.10 L1973.81,445.10 L1976.63,445.10 L1979.46,445.10 L1982.29,445.10 L1985.12,445.10 L1987.94,445.10 L1990.77,445.10 L1993.60,445.10 L1996.43,445.10 L1999.25,445.10 L2002.08,445.10 L2004.91,445.10 L2007.74,445.10 L2010.56,445.10 L2013.39,445.10 L2016.22,445.10 L2019.05,445.10 L2021.87,445.10 L2024.70,445.10 L2027.53,445.10 L2030.36,445.10 L2033.18,445.10 L2036.01,445.10 L2038.84,445.10 L2041.67,445.10 L2044.49,445.10 L2047.32,445.10 L2050.15,445.10 L2052.98,445.10 L2055.80,445.10 L2058.63,445.10 L2061.46,445.10 L2064.29,445.10" stroke="#000000"/>
<path d="M1501.61,445.10 L1504.44,445.10 L1507.27,445.10 L1510.10,445.10 L1512.92,445.10 L1515.75,445.10 L1518.58,445.10 L1521.41,445.10 L1524.23,445.10 L1527.06,445.10 L1529.89,445.10 L1532.72,445.10 L1535.54,445.10 L1538.37,445.10 L1541.20,445.10 L1544.03,445.10 L1546.85,445.10 L1549.68,445.10 L1552.51,445.10 L1555.34,445.10 L1558.16,445.10 L1560.99,445.10 L1563.82,445.10 L1566.65,445.10 L1569.47,445.10 L1572.30,445.10 L1575.13,445.10 L1577.96,445.10 L1580.78,445.10 L1583.61,445.10 L1586.44,445.10 L1589.27,445.10 L1592.09,445.10 L1594.92,445.10 L1597.75,445.10 L1600.58,445.10 L1603.40,445.10 L1606.23,445.10 L1609.06,445.10 L1611.89,445.10 L1614.71,445.10 L1617.54,445.10 L1620.37,445.10 L1623.20,445.10 L1626.02,445.10 L1628.85,445.10 L1631.68,445.10 L1634.51,445.10 L1637.33,445.10 L1640.16,445.10 L1642.99,445.10 L1645.82,445.10 L1648.64,445.10 L1651.47,445.10 L1654.30,445.10 L1657.13,445.10 L1659.95,445.10 L1662.78,445.10 L1665.61,445.09 L1668.44,445.08 L1671.26,445.01 L1674.09,444.81 L1676.92,444.12 L1679.75,442.34 L1682.57,438.43 L1685.40,431.04 L1688.23,418.24 L1691.06,401.23 L1693.88,379.52 L1696.71,357.86 L1699.54,337.48 L1702.37,322.36 L1705.19,314.90 L1708.02,316.34" stroke="#bf00bf" stroke-dasharray="40.7 7.9" stroke-dashoffset="24.20"/>
<path d="M1708.02,316.34 L1710.85,324.56 L1713.68,335.28 L1716.50,345.59 L1719.33,357.40 L1722.16,366.33 L1724.99,374.65 L1727.81,380.44 L1730.64,387.11 L1733.47,391.22 L1736.30,395.02 L1739.12,398.11 L1741.95,400.39 L1744.78,403.16 L1747.61,405.44 L1750.43,407.38 L1753.26,408.85 L1756.09,410.52 L1758.92,411.98 L1761.74,413.36 L1764.57,414.24 L1767.40,415.91 L1770.23,416.33 L1773.05,417.05 L1775.88,418.23 L1778.71,419.16 L1781.54,419.53 L1784.36,420.23 L1787.19,420.85 L1790.02,421.32 L1792.85,421.82 L1795.67,421.93 L1798.50,422.29 L1801.33,422.68 L1804.16,423.05 L1806.98,423.31 L1809.81,423.24 L1812.64,423.41 L1815.47,423.77 L1818.29,424.11 L1821.12,423.99 L1823.95,424.16 L1826.78,424.07" stroke="#bf00bf" stroke-dasharray="40.7 7.9" stroke-dashoffset="41.78"/>
<path d="M1826.78,424.07 L1829.60,424.05 L1832.43,423.86 L1835.26,423.78 L1838.09,423.68 L1840.91,423.52 L1843.74,423.63 L1846.57,423.32 L1849.40,423.11 L1852.22,422.46 L1855.05,422.20 L1857.88,422.36 L1860.71,421.92 L1863.53,420.76 L1866.36,420.97 L1869.19,420.21 L1872.02,419.92 L1874.84,419.01 L1877.67,418.41 L1880.50,417.40 L1883.33,416.78 L1886.15,415.80 L1888.98,414.83 L1891.81,413.52 L1894.64,412.43 L1897.46,411.23 L1900.29,409.65 L1903.12,408.22 L1905.95,406.70 L1908.77,405.24 L1911.60,402.63 L1914.43,400.74 L1917.26,397.73 L1920.08,395.40 L1922.91,391.91 L1925.74,388.86 L1928.57,385.14 L1931.39,381.26 L1934.22,376.21 L1937.05,371.42 L1939.88,364.54 L1942.70,356.52 L1945.53,348.03 L1948.36,338.69 L1951.19,325.86 L1954.01,308.04 L1956.84,286.52 L1959.67,248.74 L1962.50,180.09 L1965.32,102.89 L1968.15,143.44" stroke="#bf00bf" stroke-dasharray="40.7 7.9" stroke-dashoffset="31.73"/>
<path d="M1968.15,143.44 L1970.98,293.19 L1973.81,402.33 L1976.63,437.81 L1979.46,444.22 L1982.29,445.05 L1985.12,445.09 L1987.94,445.10 L1990.77,445.10 L1993.60,445.10 L1996.43,445.10 L1999.25,445.10 L2002.08,445.10 L2004.91,445.10 L2007.74,445.10 L2010.56,445.10 L2013.39,445.10 L2016.22,445.10 L2019.05,445.10 L2021.87,445.10 L2024.70,445.10 L2027.53,445.10 L2030.36,445.10 L2033.18,445.10 L2036.01,445.10 L2038.84,445.10 L2041.67,445.10 L2044.49,445.10 L2047.32,445.10 L2050.15,445.10 L2052.98,445.10 L2055.80,445.10 L2058.63,445.10 L2061.46,445.10 L2064.29,445.10" stroke="#bf00bf" stroke-dasharray="40.7 7.9" stroke-dashoffset="33.89"/>
<path d="M1501.61,445.10 L1504.44,445.10 L1507.27,445.10 L1510.10,445.10 L1512.92,445.10 L1515.75,445.10 L1518.58,445.10 L1521.41,445.10 L1524.23,445.10 L1527.06,445.10 L1529.89,445.10 L1532.72,445.10 L1535.54,445.10 L1538.37,445.10 L1541.20,445.10 L1544.03,445.10 L1546.85,445.10 L1549.68,445.10 L1552.51,445.10 L1555.34,445.10 L1558.16,445.10 L1560.99,445.10 L1563.82,445.10 L1566.65,445.10 L1569.47,445.10 L1572.30,445.10 L1575.13,445.10 L1577.96,445.10 L1580.78,445.10 L1583.61,445.10 L1586.44,445.10 L1589.27,445.10 L1592.09,445.10 L1594.92,445.10 L1597.75,445.10 L1600.58,445.10 L1603.40,445.10 L1606.23,445.10 L1609.06,445.10 L1611.89,445.10 L1614.71,445.10 L1617.54,445.10 L1620.37,445.10 L1623.20,445.10 L1626.02,445.10 L1628.85,445.10 L1631.68,445.10 L1634.51,445.10 L1637.33,445.10 L1640.16,445.10 L1642.99,445.10 L1645.82,445.10 L1648.64,445.10 L1651.47,445.10 L1654.30,445.10 L1657.13,445.10 L1659.95,445.10 L1662.78,445.10 L1665.61,445.10 L1668.44,445.10 L1671.26,445.10 L1674.09,445.10 L1676.92,445.10 L1679.75,445.10 L1682.57,445.10 L1685.40,445.10 L1688.23,445.10 L1691.06,445.10 L1693.88,445.10 L1696.71,445.10 L1699.54,445.10 L1702.37,445.10 L1705.19,445.10 L1708.02,445.10 L1710.85,445.09 L1713.68,445.08 L1716.50,444.97" stroke="#bf00bf" stroke-dasharray="19.7 4.5 3.4 4.7" stroke-dashoffset="0.00"/>
<path d="M1716.50,444.97 L1719.33,444.52 L1722.16,443.46 L1724.99,440.37 L1727.81,433.52 L1730.64,420.16 L1733.47,396.12 L1736.30,358.96 L1739.12,311.01 L1741.95,254.74 L1744.78,198.58 L1747.61,150.29 L1750.43,116.25 L1753.26,102.90" stroke="#bf00bf" stroke-dasharray="19.7 4.5 3.4 4.7" stroke-dashoffset="19.09"/>
<path d="M1753.26,102.90 L1756.09,106.03 L1758.92,125.25 L1761.74,147.72 L1764.57,178.14 L1767.40,200.53 L1770.23,223.49 L1773.05,240.25 L1775.88,254.40 L1778.71,266.92 L1781.54,277.49 L1784.36,283.68 L1787.19,290.10 L1790.02,295.66 L1792.85,300.05 L1795.67,304.13 L1798.50,307.08 L1801.33,310.01 L1804.16,311.35 L1806.98,314.34 L1809.81,315.11 L1812.64,316.61 L1815.47,316.49 L1818.29,317.04 L1821.12,316.15 L1823.95,315.37 L1826.78,313.53 L1829.60,311.97 L1832.43,308.58 L1835.26,307.93 L1838.09,303.47 L1840.91,298.58 L1843.74,294.32 L1846.57,285.43 L1849.40,281.18 L1852.22,272.57 L1855.05,258.76 L1857.88,242.18 L1860.71,223.63 L1863.53,196.04 L1866.36,166.46 L1869.19,137.51 L1872.02,117.61 L1874.84,117.61" stroke="#bf00bf" stroke-dasharray="19.7 4.5 3.4 4.7" stroke-dashoffset="12.19"/>
<path d="M1874.84,117.61 L1877.67,146.82 L1880.50,196.52 L1883.33,261.89 L1886.15,320.88 L1888.98,372.05 L1891.81,406.34 L1894.64,426.82 L1897.46,437.31 L1900.29,442.18 L1903.12,444.19 L1905.95,444.74 L1908.77,444.98 L1911.60,445.07 L1914.43,445.10 L1917.26,445.10 L1920.08,445.10 L1922.91,445.10 L1925.74,445.10 L1928.57,445.10 L1931.39,445.10 L1934.22,445.10 L1937.05,445.10 L1939.88,445.10 L1942.70,445.10 L1945.53,445.10 L1948.36,445.10 L1951.19,445.10 L1954.01,445.10 L1956.84,445.10 L1959.67,445.10 L1962.50,445.10 L1965.32,445.10 L1968.15,445.10 L1970.98,445.10 L1973.81,445.10 L1976.63,445.10 L1979.46,445.10 L1982.29,445.10 L1985.12,445.10 L1987.94,445.10 L1990.77,445.10 L1993.60,445.10 L1996.43,445.10 L1999.25,445.10 L2002.08,445.10 L2004.91,445.10 L2007.74,445.10 L2010.56,445.10 L2013.39,445.10 L2016.22,445.10 L2019.05,445.10 L2021.87,445.10 L2024.70,445.10 L2027.53,445.10 L2030.36,445.10 L2033.18,445.10 L2036.01,445.10 L2038.84,445.10 L2041.67,445.10 L2044.49,445.10 L2047.32,445.10 L2050.15,445.10 L2052.98,445.10 L2055.80,445.10 L2058.63,445.10 L2061.46,445.10 L2064.29,445.10" stroke="#bf00bf" stroke-dasharray="19.7 4.5 3.4 4.7" stroke-dashoffset="12.33"/>
</g></g>
<g fill="none" stroke-width="3.00">
<path d="M1518.10,58.15 H1559.10" stroke="#000" stroke-linecap="square"/>
<path d="M1518.10,91.64 H1559.10" stroke="#bf00bf" stroke-dasharray="40.7 7.9" stroke-dashoffset="24.2"/>
<path d="M1518.10,125.03 H1559.10" stroke="#bf00bf" stroke-dasharray="19.7 4.5 3.4 4.7"/>
</g>
<g font-size="20"><text transform="translate(1575.02,64.94) rotate(0.05)">T</text><text font-size="14" transform="translate(1587.50,69.80) rotate(0.05)">d</text><text font-size="14.67" style="font-family:'DejaVu Serif',sans-serif;stroke-width:0.05px" transform="translate(1599.42,63.10) rotate(0.05) scale(1.17,1)">=</text><text transform="translate(1616.98,64.94) rotate(0.05)">5 keV</text></g>
<g font-size="20"><text transform="translate(1574.20,98.05) rotate(0.05)">θ</text><text font-size="14" transform="translate(1585.80,102.90) rotate(0.05)">view</text><text font-size="14.67" style="font-family:'DejaVu Serif',sans-serif;stroke-width:0.05px" transform="translate(1615.22,96.20) rotate(0.05) scale(1.17,1)">=</text><text transform="translate(1631.18,98.05) rotate(0.05)">90</text><text font-size="14" transform="translate(1651.48,89.76) rotate(0.05)">°</text></g>
<g font-size="20"><text transform="translate(1574.20,131.49) rotate(0.05)">θ</text><text font-size="14" transform="translate(1585.80,136.34) rotate(0.05)">view</text><text font-size="14.67" style="font-family:'DejaVu Serif',sans-serif;stroke-width:0.05px" transform="translate(1615.22,129.65) rotate(0.05) scale(1.17,1)">=</text><text transform="translate(1631.20,131.49) rotate(0.05)">30</text><text font-size="14" transform="translate(1651.48,123.21) rotate(0.05)">°</text></g>
<text transform="translate(1500.20,462.96) rotate(0.05)" font-size="24" text-anchor="middle">0</text>
<text transform="translate(1613.30,462.96) rotate(0.05)" font-size="24" text-anchor="middle">1</text>
<text transform="translate(1726.40,462.96) rotate(0.05)" font-size="24" text-anchor="middle">2</text>
<text transform="translate(1839.50,462.96) rotate(0.05)" font-size="24" text-anchor="middle">3</text>
<text transform="translate(1952.60,462.96) rotate(0.05)" font-size="24" text-anchor="middle">4</text>
<text transform="translate(2065.70,462.96) rotate(0.05)" font-size="24" text-anchor="middle">5</text>
<text transform="translate(1485.90,440.14) rotate(0.05)" font-size="24" text-anchor="end">0.0</text>
<text transform="translate(1485.90,373.74) rotate(0.05)" font-size="24" text-anchor="end">0.2</text>
<text transform="translate(1485.90,307.34) rotate(0.05)" font-size="24" text-anchor="end">0.4</text>
<text transform="translate(1485.90,240.94) rotate(0.05)" font-size="24" text-anchor="end">0.6</text>
<text transform="translate(1485.90,174.54) rotate(0.05)" font-size="24" text-anchor="end">0.8</text>
<text transform="translate(1485.90,108.14) rotate(0.05)" font-size="24" text-anchor="end">1.0</text>
<text transform="translate(1485.90,41.74) rotate(0.05)" font-size="24" text-anchor="end">1.2</text>
<g font-size="24"><text transform="translate(1667.35,20.97) rotate(0.05)">E</text><text font-size="16.8" transform="translate(1682.68,25.82) rotate(0.05)">d</text><text font-size="17.6" style="font-family:'DejaVu Serif',sans-serif;stroke-width:0.05px" transform="translate(1696.60,18.93) rotate(0.05) scale(1.17,1)">=</text><text transform="translate(1718.18,20.97) rotate(0.05)">1000</text><text transform="translate(1772.70,20.97) rotate(0.05)">keV,</text><text transform="translate(1826.10,20.97) rotate(0.05)">v</text><text font-size="15" style="font-family:'DejaVu Sans',sans-serif;stroke-width:0" transform="translate(1840.45,26.36) rotate(0.05) scale(1.4,1)">∥</text><text transform="translate(1853.60,20.97) rotate(0.05)">/</text><text transform="translate(1860.90,20.97) rotate(0.05)">v</text><text font-size="17.6" style="font-family:'DejaVu Serif',sans-serif;stroke-width:0.05px" transform="translate(1874.60,18.93) rotate(0.05) scale(1.17,1)">=</text><text transform="translate(1899.92,20.97) rotate(0.05)">0.0</text></g>
<g font-size="24"><text transform="translate(1733.95,491.98) rotate(0.05)">E</text><text font-size="16.8" transform="translate(1749.42,498.39) rotate(0.05)">n</text><text transform="translate(1765.20,491.98) rotate(0.05)">(MeV)</text></g>
<g transform="translate(1437.90,332.83) rotate(-90) scale(0.9873,1)"><g font-size="24"><text transform="translate(-0.88,0.00) rotate(0.05)">dN/dE</text><text font-size="16.8" transform="translate(62.12,4.85) rotate(0.05)">n</text><text transform="translate(77.60,0.00) rotate(0.05)">(normalized)</text></g></g>
<text transform="translate(1414.30,22.18) rotate(0.05)" font-size="31">(c)</text>
</g>
</g>
</svg></body></html>
